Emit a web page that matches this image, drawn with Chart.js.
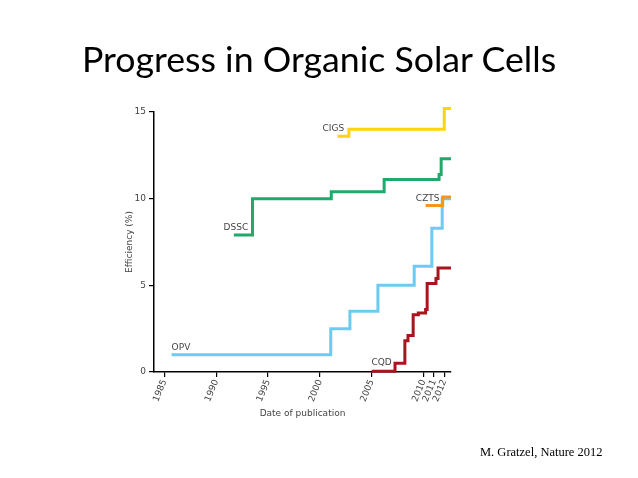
<!DOCTYPE html>
<html>
<head>
<meta charset="utf-8">
<script src="https://cdn.jsdelivr.net/npm/chart.js@4.4.1/dist/chart.umd.min.js"></script>
<style>
  body { margin: 0; background: #fff; }
  #wrap { position: relative; width: 638px; height: 478px; overflow: hidden; }
  #title { position: absolute; left: 0; width: 638px; top: 37px; text-align: center;
           font-family: Lato, sans-serif; font-size: 35.7px; color: #000; }
  #cite { position: absolute; left: 480px; top: 445px; font-family: "Liberation Serif", serif;
          font-size: 12.5px; color: #000; }
  canvas { position: absolute; left: 0; top: 0; }
</style>
</head>
<body>
<div id="wrap">
  <canvas id="myChart" width="638" height="478"></canvas>
  <div id="title">Progress in Organic Solar Cells</div>
  <div id="cite">M. Gratzel, Nature 2012</div>
</div>
<script>
// step points: value holds from each year until the next one
const cigsYears  = [2001.7, 2002.8, 2012.0, 2012.65];
const cigsVals   = [13.6, 14.0, 15.2, 15.2];
const dsscYears  = [1991.7, 1993.5, 2001.1, 2006.2, 2011.5, 2011.7, 2012.65];
const dsscVals   = [7.9, 10.0, 10.4, 11.1, 11.4, 12.3, 12.3];
const cztsYears  = [2010.2, 2011.85, 2012.65];
const cztsVals   = [9.6, 10.1, 10.1];
const opvYears   = [1985.7, 2001.05, 2002.9, 2005.6, 2009.1, 2010.8, 2011.8, 2012.65];
const opvVals    = [1.0, 2.5, 3.5, 5.0, 6.1, 8.3, 10.0, 10.0];
const cqdYears   = [2005.0, 2007.25, 2008.2, 2008.5, 2009.0, 2009.5, 2010.2, 2010.35, 2011.2, 2011.4, 2012.65];
const cqdVals    = [0.05, 0.5, 1.8, 2.1, 3.3, 3.4, 3.6, 5.1, 5.4, 6.0, 6.0];
const xTicks = [1985, 1990, 1995, 2000, 2005, 2010, 2011, 2012];
const yTicks = [0, 5, 10, 15];

const pts = (xs, ys) => xs.map((x, i) => ({x: x, y: ys[i]}));

// series name tags, placed in data units
const tags = [
  {text: 'CIGS', x: 2001.3, y: 14.05},
  {text: 'DSSC', x: 1991.9, y: 8.35},
  {text: 'CZTS', x: 2010.4, y: 10.0},
  {text: 'OPV',  x: 1986.6, y: 1.4},
  {text: 'CQD',  x: 2005.95, y: 0.55}
];

const tagPlugin = {
  id: 'tags',
  afterDatasetsDraw(chart) {
    const ctx = chart.ctx, xs = chart.scales.x, ys = chart.scales.y;
    ctx.save();
    ctx.font = '9px "DejaVu Sans", sans-serif';
    ctx.fillStyle = '#444';
    ctx.textAlign = 'center';
    ctx.textBaseline = 'middle';
    tags.forEach(t => ctx.fillText(t.text, xs.getPixelForValue(t.x), ys.getPixelForValue(t.y)));
    ctx.restore();
  }
};

const mk = (data, color) => ({
  data: data, borderColor: color, borderWidth: 3, pointRadius: 0,
  stepped: 'before', fill: false, clip: false, tension: 0
});

new Chart('myChart', {
  type: 'line',
  data: {
    datasets: [
      mk(pts(cigsYears, cigsVals), '#FFD40A'),
      mk(pts(dsscYears, dsscVals), '#1FAA6B'),
      mk(pts(cztsYears, cztsVals), '#F7941D'),
      mk(pts(opvYears, opvVals), '#6CCBF1'),
      mk(pts(cqdYears, cqdVals), '#A8151F')
    ]
  },
  plugins: [tagPlugin],
  options: {
    responsive: false,
    animation: false,
    layout: { padding: { left: 124, right: 187, top: 112, bottom: 59 } },
    plugins: { legend: { display: false }, tooltip: { enabled: false } },
    scales: {
      x: {
        type: 'linear', min: 1984, max: 2012.65,
        afterBuildTicks: s => { s.ticks = xTicks.map(v => ({value: v})); },
        afterFit: s => { s.height = 47; },
        grid: { drawOnChartArea: false, drawTicks: true, tickLength: 5, color: '#000', lineWidth: 1.2 },
        border: { color: '#000', width: 1.5 },
        ticks: { minRotation: 68, maxRotation: 68, padding: 1, color: '#444',
                 font: { family: '"DejaVu Sans", sans-serif', size: 9 }, callback: v => String(v) },
        title: { display: true, text: 'Date of publication', color: '#444', padding: 0,
                 font: { family: '"DejaVu Sans", sans-serif', size: 9 } }
      },
      y: {
        min: 0, max: 15,
        afterBuildTicks: s => { s.ticks = yTicks.map(v => ({value: v})); },
        afterFit: s => { s.width = 30; },
        grid: { drawOnChartArea: false, drawTicks: true, tickLength: 5, color: '#000', lineWidth: 1.2 },
        border: { color: '#000', width: 1.5 },
        ticks: { padding: 3, color: '#444', font: { family: '"DejaVu Sans", sans-serif', size: 9 } },
        title: { display: true, text: 'Efficiency (%)', color: '#444', padding: 0,
                 font: { family: '"DejaVu Sans", sans-serif', size: 9 } }
      }
    }
  }
});
</script>
</body>
</html>
